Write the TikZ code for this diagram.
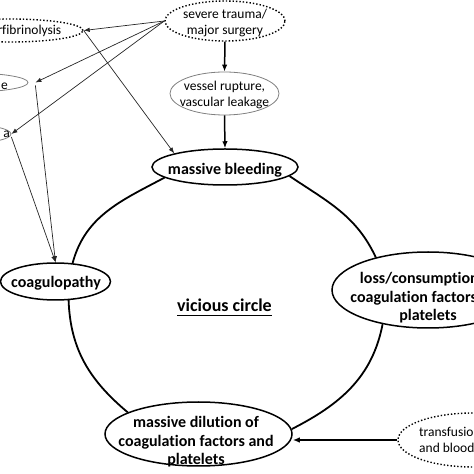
\documentclass[tikz,border=0pt]{standalone}
\usepackage{fontspec}
\setmainfont[Ligatures={NoCommon,NoRare,NoContextual}]{Carlito}
\usetikzlibrary{arrows.meta,shapes.geometric}

\begin{document}
\begin{tikzpicture}[x=1pt,y=1pt,
  mainell/.style={ellipse,draw,line width=1.5pt,inner sep=0pt},
  greyell/.style={ellipse,draw=gray,line width=0.8pt,inner sep=0pt},
  dotell/.style={ellipse,draw,line width=1.4pt,dotted,inner sep=0pt},
  bigtxt/.style={font=\fontsize{16}{18.5}\selectfont\bfseries,align=center,inner sep=0pt},
  smalltxt/.style={font=\fontsize{13.5}{16}\selectfont,align=center,inner sep=0pt},
  ring/.style={line width=1.8pt},
  thinarr/.style={-{Latex[length=6pt,width=4.5pt]},line width=0.7pt,draw=black!85},
  thickarr/.style={-{Latex[length=7pt,width=5.5pt]},line width=1.5pt}]
  \useasboundingbox (0,0) rectangle (474,474);
  \clip (0,0) rectangle (474,474);
  % 诱因
  \node[dotell,minimum width=120,minimum height=40] (sev) at (225,453) {};
  \node[smalltxt] (sevT) at (225,451.5) {severe trauma/\\major surgery};
  \node[dotell,minimum width=146,minimum height=23] (fib) at (10,443.5) {};
  \node[smalltxt] (fibT) at (16,443) {hyperfibrinolysis};
  \node[greyell,minimum width=116,minimum height=19] (ee) at (-30,391.5) {};
  \node[smalltxt,anchor=east] (eeT) at (8,388) {e};
  \node[greyell,minimum width=102,minimum height=20] (aa) at (-40,340) {};
  \node[smalltxt,anchor=east] (aaT) at (10,340) {a};
  \node[greyell,minimum width=109,minimum height=43] (ves) at (224.5,380.5) {};
  \node[smalltxt] (vesT) at (224.5,379.5) {vessel rupture,\\vascular leakage};
  \node[dotell,minimum width=150,minimum height=54] (tr) at (473,34) {};
  \node[smalltxt,anchor=west,align=left] (trT) at (419,34) {transfusion\\and blood};
  % 恶性循环
  \node[mainell,minimum width=146,minimum height=36] (mb) at (225,307) {};
  \node[bigtxt] (mbT) at (225,304) {massive bleeding};
  \node[mainell,minimum width=110,minimum height=37] (coag) at (55.5,192.5) {};
  \node[bigtxt] (coagT) at (56,191) {coagulopathy};
  \node[mainell,minimum width=192,minimum height=76] (loss) at (428,184) {};
  \node[bigtxt] (lossT) at (428,176) {loss/consumption of\\coagulation factors and\\platelets};
  \node[mainell,minimum width=187,minimum height=64] (dil) at (198.5,40) {};
  \node[bigtxt] (dilT) at (196,32) {massive dilution of\\coagulation factors and\\platelets};
  \node[font=\fontsize{18}{20}\selectfont\bfseries,inner sep=0pt,anchor=base] (vc) at (224.5,162) {vicious circle};
  \draw[line width=1.2pt] ([yshift=-3pt]vc.south west) -- ([yshift=-3pt]vc.south east);
  \draw[ring] (mb.190) to[out=208,in=75] (coag.47);
  \draw[ring] (mb.352) to[out=-34,in=115] (loss.148);
  \draw[ring] (loss.217) to[out=259,in=27] (dil.3);
  \draw[ring] (coag.305) to[out=272,in=140] (dil.163);
  % 箭头
  \draw[thickarr] (sev.south) -- (ves.north);
  \draw[thickarr] (ves.south) -- (mb.north);
  \draw[thickarr] (tr.west) -- (tr.west -| dil.east);
  \draw[thinarr] (sev.west) -- (fib.east);
  \draw[thinarr] (sev.west) -- ([xshift=7pt]ee.east);
  \draw[thinarr] (sev.west) -- (aa.east);
  \draw[thinarr] (fib.east) -- (mb.165);
  \draw[thinarr] ([xshift=7pt,yshift=-3pt]ee.east) -- (coag.north);
  \draw[thinarr] ([yshift=-3pt]aa.east) -- (coag.north);
\end{tikzpicture}
\end{document}
